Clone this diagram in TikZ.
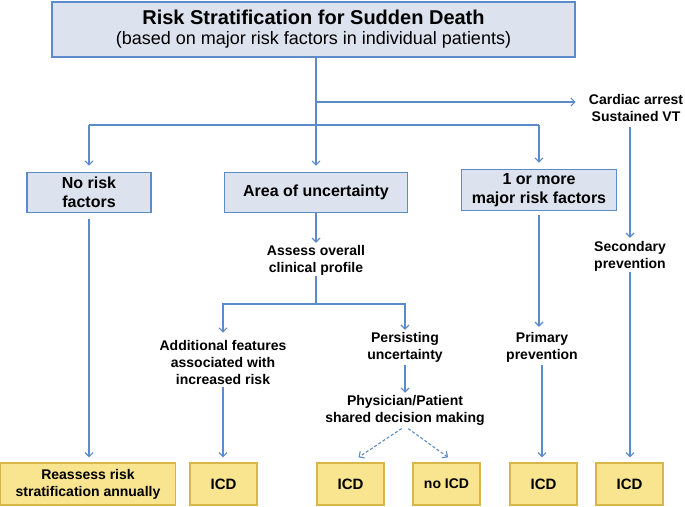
\documentclass[tikz,border=0pt]{standalone}
\usepackage{fontspec}
\setmainfont{Liberation Sans}
\usetikzlibrary{positioning, arrows.meta, calc}
\definecolor{flowblue}{HTML}{5B8BC9}
\definecolor{boxfill}{HTML}{DCE3EE}
\definecolor{icdfill}{HTML}{F9E48F}
\definecolor{icdline}{HTML}{D9B64A}

\begin{document}
\begin{tikzpicture}[
    x=1pt, y=-1pt,
    box/.style={rectangle, draw=flowblue, line width=1.6pt, fill=boxfill, align=center, font=\fontsize{16}{19}\selectfont\bfseries, inner sep=0pt},
    result/.style={rectangle, draw=icdline, line width=1.4pt, fill=icdfill, align=center, minimum height=42pt, inner sep=0pt, font=\fontsize{14}{17}\selectfont\bfseries},
    txt/.style={align=center, font=\fontsize{14}{17}\selectfont\bfseries, inner sep=1pt},
    arrow/.style={-{Straight Barb[length=4pt, width=8pt]}, flowblue, line width=1.1pt},
    dasharrow/.style={arrow, dash pattern=on 3pt off 2pt},
    line/.style={flowblue, line width=1.1pt},
]
    \useasboundingbox (0,0) rectangle (685,506);

%% NODES
    % header
    \node[box, minimum width=523pt, minimum height=55pt] (title) at (313.5,29.5)
        {{\fontsize{20}{23}\selectfont Risk Stratification for Sudden Death}\\[1pt]
         {\fontsize{18}{21}\selectfont\mdseries (based on major risk factors in individual patients)}};
    \node[txt] (cardiac) at (636,108) {Cardiac arrest\\Sustained VT};

    % risk groups
    \node[box, minimum width=124pt, minimum height=40pt] (norisk) at (89,192.5) {No risk\\factors};
    \node[box, minimum width=183pt, minimum height=40pt] (area) at (316,192.5) {Area of uncertainty};
    \node[box, minimum width=155pt, minimum height=41pt] (major) at (539,190) {1 or more\\major risk factors};
    \node[txt] (secondary) at (630,256) {Secondary\\prevention};

    % area of uncertainty
    \node[txt] (assess) at (316,260) {Assess overall\\clinical profile};
    \node[txt] (additional) at (223,362) {Additional features\\associated with\\increased risk};
    \node[txt] (persisting) at (405,347) {Persisting\\uncertainty};
    \node[txt] (physician) at (405,410) {Physician/Patient\\shared decision making};
    \node[txt] (primary) at (542,347) {Primary\\prevention};

    % outcomes
    \node[result, minimum width=175pt] (reassess) at (88,484) {Reassess risk\\stratification annually};
    \node[result, minimum width=67pt, font=\fontsize{15}{17}\selectfont\bfseries] (icd_add) at (223.5,484) {ICD};
    \node[result, minimum width=67pt, font=\fontsize{15}{17}\selectfont\bfseries] (icd_sdm) at (350.5,484) {ICD};
    \node[result, minimum width=67pt] (noicd_sdm) at (446.5,484) {no ICD};
    \node[result, minimum width=67pt, font=\fontsize{15}{17}\selectfont\bfseries] (icd_primary) at (543.5,484) {ICD};
    \node[result, minimum width=67pt, font=\fontsize{15}{17}\selectfont\bfseries] (icd_secondary) at (629.5,484) {ICD};

    \coordinate (cbranch) at (316,102);
    \coordinate (split) at (316,125);
    \coordinate (fork) at (316,304);

%% CONNECTIONS
    % header -> groups
    \draw[line] (title.south -| cbranch) -- (cbranch);
    \draw[arrow, shorten >=6pt] (cbranch) -- (area.north);
    \draw[arrow, shorten >=12pt] (cbranch) -- (cbranch -| cardiac.west);
    \draw[line] (split -| norisk.north) -- (split -| major.north);
    \draw[arrow, shorten >=6pt] (split -| norisk.north) -- (norisk.north);
    \draw[arrow, shorten >=6pt] (split -| major.north) -- (major.north);

    % cardiac arrest -> secondary prevention
    \draw[arrow, shorten <=4pt, shorten >=2pt] (cardiac.south -| secondary.north) -- (secondary.north);
    \draw[arrow, shorten >=5pt] (secondary.south) -- (secondary.south |- icd_secondary.north);

    % no risk factors
    \draw[arrow, shorten <=6pt, shorten >=5pt] (norisk.south) -- (norisk.south |- reassess.north);

    % area of uncertainty
    \draw[arrow, shorten >=1pt] (area.south) -- (assess.north);
    \draw[line] (assess.south) -- (fork);
    \draw[arrow, shorten >=6pt] (fork) -| (additional.north);
    \draw[arrow, shorten >=1pt] (fork) -| (persisting.north);
    \draw[arrow, shorten <=2pt, shorten >=5pt] (additional.south) -- (additional.south |- icd_add.north);
    \draw[arrow, shorten <=2pt, shorten >=1pt] (persisting.south) -- (physician.north);
    \draw[dasharrow, shorten <=4pt] (physician.south) -- ([xshift=8pt, yshift=5pt]icd_sdm.north);
    \draw[dasharrow, shorten <=4pt] (physician.south) -- ([xshift=1.5pt, yshift=5pt]noicd_sdm.north);

    % major risk factors
    \draw[arrow, shorten <=4pt, shorten >=4pt] (major.south) -- (major.south |- primary.north);
    \draw[arrow, shorten <=2pt, shorten >=5pt] (primary.south) -- (primary.south |- icd_primary.north);

\end{tikzpicture}
\end{document}
